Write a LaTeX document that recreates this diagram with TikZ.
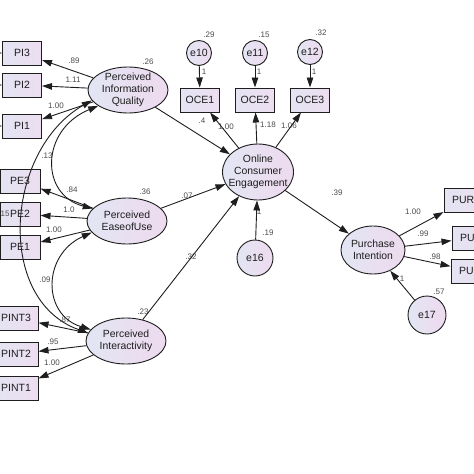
\documentclass[tikz,border=0pt]{standalone}
\usepackage{fontspec}
\setmainfont{Liberation Sans}
\usetikzlibrary{arrows.meta,shapes.geometric}
\definecolor{boxL}{RGB}{228,228,243}
\definecolor{boxR}{RGB}{236,222,240}
\definecolor{latL}{RGB}{226,230,244}
\definecolor{latR}{RGB}{238,218,238}
\definecolor{ink}{RGB}{30,30,30}
\begin{document}
\begin{tikzpicture}[x=1pt,y=-1pt,
  obs/.style={rectangle, draw=ink, line width=1pt, left color=boxL, right color=boxR,
    minimum width=39pt, minimum height=24pt, inner sep=0pt, text=ink,
    font=\fontsize{10.5}{12}\selectfont},
  lat/.style={ellipse, draw=ink, line width=0.9pt, left color=latL, right color=latR,
    inner sep=0pt, minimum width=80pt, minimum height=46pt},
  lattext/.style={align=center, inner sep=0pt, text=ink, font=\fontsize{10.4}{12}\selectfont},
  err/.style={circle, draw=ink, line width=0.9pt, left color=latL, right color=latR,
    inner sep=0pt, text=ink, font=\fontsize{10.5}{12}\selectfont},
  pth/.style={line width=0.9pt, draw=ink, -{Triangle[length=10pt,width=6.5pt]}},
  cov/.style={line width=0.9pt, draw=ink, {Triangle[length=10pt,width=6.5pt]}-{Triangle[length=10pt,width=6.5pt]}},
  num/.style={inner sep=0pt, text=black!70, font=\fontsize{8}{9}\selectfont},
]
\useasboundingbox (0,0) rectangle (474,474);
\clip (0,0) rectangle (474,474);
\fill[white] (0,0) rectangle (474,474);

% latent variables
\node[lat] (PIQ) at (128,90) {};
\node[lattext] at (PIQ) {Perceived\\Information\\Quality};
\node[lat] (PEU) at (127,221) {};
\node[lattext] at (PEU) {Perceived\\EaseofUse};
\node[lat] (PIN) at (126,341) {};
\node[lattext] at (PIN) {Perceived\\Interactivity};
\node[lat, minimum width=71pt, minimum height=56pt] (OCE) at (258,172) {};
\node[lattext] at (OCE) {Online\\Consumer\\Engagement};
\node[lat, minimum width=64pt, minimum height=48pt] (PUI) at (373,250) {};
\node[lattext] at (PUI) {Purchase\\Intention};

% observed variables
\node[obs] (PI3) at (22,53) {PI3};
\node[obs] (PI2) at (22,85) {PI2};
\node[obs] (PI1) at (22,126) {PI1};
\node[obs, minimum width=40pt] (PE3) at (20,181) {PE3};
\node[obs, minimum width=40pt] (PE2) at (20,214) {PE2};
\node[obs, minimum width=40pt] (PE1) at (20,247) {PE1};
\node[obs, minimum width=44pt] (PINT3) at (16,318) {PINT3};
\node[obs, minimum width=44pt] (PINT2) at (16,354) {PINT2};
\node[obs, minimum width=44pt] (PINT1) at (16,388) {PINT1};
\node[obs] (OCE1) at (200,100) {OCE1};
\node[obs] (OCE2) at (255,100) {OCE2};
\node[obs] (OCE3) at (310,100) {OCE3};
\node[obs, minimum width=44pt] (PUR1) at (466,200) {PUR1};
\node[obs, minimum width=44pt] (PUR2) at (474,238) {PUR2};
\node[obs, minimum width=44pt] (PUR3) at (473,271) {PUR3};

% error terms
\node[err, minimum size=25pt] (e10) at (199,53) {e10};
\node[err, minimum size=25pt] (e11) at (255,53) {e11};
\node[err, minimum size=25pt] (e12) at (310,52) {e12};
\node[err, minimum size=36pt] (e16) at (255,258) {e16};
\node[err, minimum size=38pt] (e17) at (427,315) {e17};

% error stubs for left indicators (circles outside the picture)
\coordinate (z1) at (-40,53);
\coordinate (z2) at (-40,85);
\coordinate (z3) at (-40,126);
\coordinate (z4) at (-40,181);
\coordinate (z5) at (-40,214);
\coordinate (z6) at (-40,247);
\draw[pth] (z1) -- (PI3);
\draw[pth] (z2) -- (PI2);
\draw[pth] (z3) -- (PI1);
\draw[pth] (z4) -- (PE3);
\draw[pth] (z5) -- (PE2);
\draw[pth] (z6) -- (PE1);

% numbers
\node[num] at (74,61) {.89};
\node[num] at (73,80) {1.11};
\node[num] at (56,106) {1.00};
\node[num] at (148,62) {.26};
\node[num] at (72,190) {.84};
\node[num] at (69,210) {1.0};
\node[num] at (54,230) {1.00};
\node[num] at (145,192) {.36};
\node[num] at (4,214) {.15};
\node[num] at (65,320) {.87};
\node[num] at (53,342) {.95};
\node[num] at (52,363) {1.00};
\node[num] at (143,312) {.23};
\node[num] at (47,156) {.13};
\node[num] at (45,280) {.09};
\node[num] at (209,35) {.29};
\node[num] at (264,35) {.15};
\node[num] at (321,33) {.32};
\node[num] at (204,72) {1};
\node[num] at (259,72) {1};
\node[num] at (314,72) {1};
\node[num] at (202,121) {.4};
\node[num] at (226,127) {1.00};
\node[num] at (268,125) {1.18};
\node[num] at (289,126) {1.06};
\node[num] at (187,196) {.07};
\node[num] at (191,257) {.32};
\node[num] at (259,212) {1};
\node[num] at (268,233) {.19};
\node[num] at (337,193) {.39};
\node[num] at (413,212) {1.00};
\node[num] at (423,234) {.99};
\node[num] at (435,257) {.98};
\node[num] at (402,279) {1};
\node[num] at (439,292) {.57};

% loadings
\draw[pth] (PIQ) -- (PI3);
\draw[pth] (PIQ) -- (PI2);
\draw[pth] (PIQ) -- (PI1);
\draw[pth] (PEU) -- (PE3);
\draw[pth] (PEU) -- (PE2);
\draw[pth] (PEU) -- (PE1);
\draw[pth] (PIN) -- (PINT3);
\draw[pth] (PIN) -- (PINT2);
\draw[pth] (PIN) -- (PINT1);
\draw[pth] (OCE) -- (OCE1);
\draw[pth] (OCE) -- (OCE2);
\draw[pth] (OCE) -- (OCE3);
\draw[pth] (PUI) -- (PUR1);
\draw[pth] (PUI) -- (PUR2);
\draw[pth] (PUI) -- (PUR3);

% structural paths
\draw[pth] (PIQ) -- (OCE);
\draw[pth] (PEU) -- (OCE);
\draw[pth] (PIN) -- (OCE.232);
\draw[pth] (OCE) -- (PUI);

% error arrows
\draw[pth] (e10) -- (OCE1);
\draw[pth] (e11) -- (OCE2);
\draw[pth] (e12) -- (OCE3);
\draw[pth] (e16) -- (OCE);
\draw[pth] (e17) -- (PUI);

% covariances
\draw[cov] (PIQ.208) .. controls (40,130) and (40,195) .. (PEU.160);
\draw[cov] (PEU.198) .. controls (42,255) and (42,315) .. (PIN.162);
\draw[cov] (PIQ.196) .. controls (5,150) and (-5,300) .. (PIN.168);
\end{tikzpicture}
\end{document}
